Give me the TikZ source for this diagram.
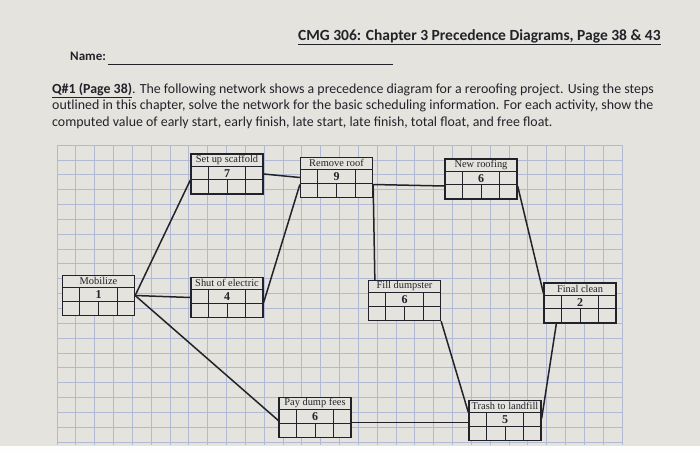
\documentclass[tikz,border=0pt]{standalone}
\usepackage{fontspec}
\setmainfont{Liberation Serif}
\newfontfamily\sheetfont{Carlito}
\definecolor{paper}{RGB}{229,227,221}
\definecolor{gridline}{RGB}{178,185,210}
\definecolor{ink}{RGB}{34,34,42}
\tikzset{actbox/.style={draw=ink,fill=paper,line width=1.3pt,minimum width=72pt,minimum height=40pt,inner sep=0pt},
  link/.style={draw=ink,line width=1.5pt},
  sheet/.style={anchor=base west,inner sep=0pt,text=ink,font=\sheetfont\fontsize{13.9}{15}\selectfont}}
\newcommand{\activity}[5]{%
  \node[actbox] (#1) at (#2,#3) {};
  \draw[ink,line width=1pt] ([yshift=-13pt]#1.north west) -- ([yshift=-13pt]#1.north east)
    ([yshift=-26.5pt]#1.north west) -- ([yshift=-26.5pt]#1.north east)
    ([xshift=18pt,yshift=-13pt]#1.north west) -- ([xshift=18pt]#1.south west)
    ([xshift=-18pt,yshift=-13pt]#1.north east) -- ([xshift=-18pt]#1.south east)
    ([yshift=-26.5pt]#1.north) -- (#1.south);
  \node[inner sep=0pt,text=ink,font=\fontsize{10.4}{11}\selectfont] (#1-name) at ([yshift=-6.5pt]#1.north) {#4};
  \node[inner sep=0pt,text=ink,font=\fontsize{12}{12}\selectfont\bfseries] (#1-dur) at ([yshift=-19.75pt]#1.north) {#5};
}

\begin{document}
\begin{tikzpicture}[x=1pt,y=-1pt]
\fill[paper] (0,0) rectangle (700,452);
\fill[white!92!paper] (0,446) rectangle (700,452);
\useasboundingbox (0,0) rectangle (700,452);
\foreach \i in {0,...,30} \draw[gridline,line width=0.7pt] (57+\i*18.83,145) -- (57+\i*18.83,445);
\foreach \j in {0,...,20} \draw[gridline,line width=0.7pt] (57,145+\j*14.85) -- (622,145+\j*14.85);
\node[anchor=west,inner sep=0pt,text=ink,font=\sheetfont\bfseries\fontsize{15.5}{17}\selectfont] (title) at (298,37) {\underline{CMG 306: Chapter 3 Precedence Diagrams, Page 38 \& 43}};
\node[anchor=base west,inner sep=0pt,text=ink,font=\sheetfont\bfseries\fontsize{13}{15}\selectfont] (name) at (70,60) {Name:};
\draw[ink,line width=1pt] ([xshift=2pt,yshift=-4pt]name.base east) -- ++(285,0);
\node[sheet] (q1) at (52,93) {\textbf{\underline{Q\#1 (Page 38)}}. The following network shows a precedence diagram for a reroofing project. Using the steps};
\node[sheet] (q2) at (52,109.5) {outlined in this chapter, solve the network for the basic scheduling information. For each activity, show the};
\node[sheet] (q3) at (52,126) {computed value of early start, early finish, late start, late finish, total float, and free float.};
\activity{mob}{98.5}{295.5}{Mobilize}{1}
\activity{scaf}{227}{174}{Set up scaffold}{7}
\activity{roof}{336.5}{177.5}{Remove roof}{9}
\activity{newr}{481}{179}{New roofing}{6}
\activity{elec}{227}{297.5}{Shut of electric}{4}
\activity{fill}{404.5}{300.5}{Fill dumpster}{6}
\activity{clean}{580}{303}{Final clean}{2}
\activity{fees}{315}{417.5}{Pay dump fees}{6}
\activity{trash}{505}{420.5}{Trash to landfill}{5}
\draw[link] (mob.east) -- ([yshift=-6pt]scaf.west);
\draw[link] (mob.east) -- (elec.west);
\draw[link] (mob.east) -- ([yshift=-3pt]fees.west);
\draw[link] (scaf.east) -- (roof.west);
\draw[link] ([yshift=-5pt]elec.east) -- ([yshift=-7pt]roof.west);
\draw[link] ([yshift=-7pt]roof.east) -- ([yshift=-7pt]newr.west);
\draw[link] ([yshift=-7pt]roof.east) -- ([xshift=7pt]fill.north west);
\draw[link] ([yshift=-7pt]newr.east) -- ([yshift=10pt]clean.west);
\draw[link] (fill.south east) -- ([yshift=8pt]trash.west);
\draw[link] ([xshift=13pt]clean.south west) -- ([yshift=2pt]trash.east);
\draw[link] ([yshift=-5pt]fees.east) -- ([yshift=-2pt]trash.west);
\end{tikzpicture}
\end{document}
